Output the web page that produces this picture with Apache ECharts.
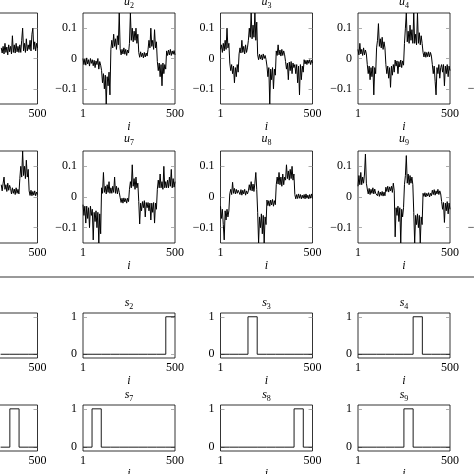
<!DOCTYPE html>
<html>
<head>
<meta charset="utf-8">
<script src="https://cdn.jsdelivr.net/npm/echarts@6.0.0/dist/echarts.min.js"></script>
<style>
html, body { margin: 0; padding: 0; background: #fff; }
#main { width: 474px; height: 474px; }
</style>
</head>
<body>
<div id="main"></div>
<script>
// u_k : 100 samples over i = 1..500 (10 per block of 50)
// hidden parts (left of the crop) are null
const u1 = Array(60).fill(null).concat([
  0.035, 0.018, 0.04, 0.015, 0.05, 0.02, 0.038, 0.012, 0.045, 0.022,
  0.04, 0.015, 0.075, 0.02, 0.045, 0.018, 0.05, 0.022, 0.04, 0.02,
  0.045, 0.02, 0.06, 0.1, 0.025, 0.05, 0.02, 0.065, 0.025, 0.045,
  0.03, 0.06, 0.025, 0.08, 0.1, 0.03, 0.055, 0.025, 0.05, 0.035
]);
const u2 = [
  0.0, -0.02, -0.002, -0.022, 0.002, -0.018, -0.004, -0.025, 0.0, -0.016,
  -0.004, -0.024, -0.006, -0.03, -0.008, -0.02, 0.0, -0.035, -0.01, -0.022,
  -0.04, -0.08, -0.05, -0.1, -0.055, -0.15, -0.06, -0.09, -0.045, -0.12,
  0.03, 0.06, 0.035, 0.08, 0.04, 0.065, 0.03, 0.075, 0.045, 0.15,
  0.032, 0.012, 0.03, 0.015, 0.035, 0.014, 0.03, 0.01, 0.028, 0.018,
  0.05, 0.15, 0.06, 0.1, 0.055, 0.09, 0.06, 0.1, 0.05, 0.08,
  0.02, 0.004, 0.022, 0.006, 0.018, 0.002, 0.02, 0.005, 0.018, 0.008,
  0.03, 0.06, 0.035, 0.1, 0.04, 0.06, 0.03, 0.095, 0.035, 0.055,
  -0.01, -0.04, -0.015, -0.06, -0.02, -0.09, -0.015, -0.05, -0.02, -0.035,
  0.025, 0.01, 0.028, 0.012, 0.03, 0.01, 0.025, 0.014, 0.026, 0.012
];
const u3 = [
  0.03, 0.045, 0.02, 0.05, 0.025, 0.06, 0.03, 0.1, 0.035, 0.05,
  -0.015, -0.04, -0.02, -0.05, -0.025, -0.08, -0.03, -0.06, -0.02, -0.045,
  0.015, 0.035, 0.018, 0.06, 0.02, 0.04, 0.015, 0.045, 0.02, 0.035,
  0.06, 0.1, 0.07, 0.15, 0.065, 0.11, 0.07, 0.15, 0.06, 0.12,
  0.012, -0.004, 0.014, -0.002, 0.012, -0.005, 0.015, 0.0, 0.01, -0.003,
  -0.025, -0.06, -0.03, -0.15, -0.035, -0.07, -0.03, -0.1, -0.035, -0.055,
  0.025, 0.01, 0.045, 0.012, 0.028, 0.008, 0.03, 0.01, 0.025, 0.012,
  -0.01, -0.035, -0.015, -0.07, -0.012, -0.04, -0.01, -0.05, -0.015, -0.03,
  -0.02, -0.05, -0.02, -0.08, -0.025, -0.12, -0.02, -0.07, -0.025, -0.045,
  -0.004, -0.018, -0.006, -0.02, -0.005, -0.016, -0.004, -0.02, -0.006, -0.015
];
const u4 = [
  0.03, 0.012, 0.05, 0.015, 0.03, 0.01, 0.035, 0.012, 0.028, 0.015,
  -0.02, -0.05, -0.025, -0.07, -0.03, -0.06, -0.025, -0.12, -0.03, -0.05,
  0.035, 0.06, 0.115, 0.04, 0.065, 0.035, 0.07, 0.03, 0.055, 0.035,
  -0.02, -0.05, -0.025, -0.065, -0.03, -0.095, -0.025, -0.055, -0.02, -0.045,
  -0.005, -0.025, -0.008, -0.05, -0.01, -0.028, -0.005, -0.03, -0.008, -0.022,
  0.05, 0.1, 0.15, 0.055, 0.09, 0.05, 0.11, 0.06, 0.095, 0.05,
  0.15, 0.05, 0.08, 0.045, 0.15, 0.05, 0.085, 0.045, 0.075, 0.05,
  0.02, 0.005, 0.022, 0.004, 0.02, 0.006, 0.022, 0.005, 0.02, 0.008,
  -0.02, -0.05, -0.025, -0.075, -0.12, -0.03, -0.05, -0.02, -0.065, -0.03,
  -0.02, -0.045, -0.02, -0.09, -0.025, -0.05, -0.02, -0.06, -0.025, -0.04
];
const u6 = Array(60).fill(null).concat([
  0.04, 0.02, 0.045, 0.065, 0.025, 0.04, 0.018, 0.045, 0.022, 0.038,
  0.028, 0.01, 0.03, 0.012, 0.026, 0.008, 0.03, 0.012, 0.025, 0.01,
  0.06, 0.1, 0.065, 0.15, 0.07, 0.1, 0.06, 0.12, 0.065, 0.09,
  0.02, 0.005, 0.022, 0.004, 0.018, 0.006, 0.02, 0.004, 0.016, 0.008
]);
const u7 = [
  -0.025, -0.06, -0.03, -0.085, -0.03, -0.07, -0.035, -0.1, -0.03, -0.06,
  -0.04, -0.14, -0.05, -0.08, -0.045, -0.1, -0.05, -0.15, -0.055, -0.12,
  0.03, 0.012, 0.08, 0.015, 0.035, 0.01, 0.04, 0.015, 0.05, 0.012,
  0.03, 0.012, 0.035, 0.015, 0.065, 0.012, 0.035, 0.01, 0.03, 0.015,
  -0.002, -0.018, -0.004, -0.02, -0.003, -0.016, -0.005, -0.02, -0.004, -0.015,
  0.025, 0.05, 0.03, 0.105, 0.035, 0.06, 0.025, 0.065, 0.03, 0.045,
  -0.015, -0.088, -0.02, -0.045, -0.015, -0.035, -0.012, -0.065, -0.018, -0.035,
  -0.018, -0.045, -0.02, -0.075, -0.02, -0.05, -0.018, -0.085, -0.02, -0.04,
  0.025, 0.055, 0.03, 0.075, 0.03, 0.05, 0.025, 0.1, 0.03, 0.05,
  0.03, 0.055, 0.03, 0.065, 0.035, 0.09, 0.03, 0.06, 0.032, 0.05
];
const u8 = [
  -0.03, -0.07, -0.04, -0.09, -0.14, -0.045, -0.075, -0.04, -0.065, -0.045,
  0.01, 0.025, 0.008, 0.048, 0.012, 0.028, 0.01, 0.025, 0.012, 0.022,
  0.022, 0.008, 0.024, 0.006, 0.022, 0.01, 0.025, 0.006, 0.02, 0.01,
  0.02, 0.04, 0.022, 0.05, 0.02, 0.042, 0.018, 0.045, 0.08, 0.025,
  -0.05, -0.15, -0.065, -0.1, -0.055, -0.12, -0.06, -0.15, -0.065, -0.09,
  -0.01, -0.028, -0.012, -0.03, -0.01, -0.026, -0.008, -0.03, -0.012, -0.025,
  0.04, 0.065, 0.042, 0.08, 0.04, 0.065, 0.035, 0.075, 0.04, 0.065,
  0.055, 0.105, 0.06, 0.085, 0.055, 0.09, 0.06, 0.1, 0.055, 0.075,
  0.008, -0.006, 0.008, -0.005, 0.01, -0.004, 0.008, -0.006, 0.006, -0.004,
  0.008, -0.006, 0.01, -0.004, 0.006, -0.006, 0.008, -0.004, 0.01, -0.005
];
const u9 = [
  0.035, 0.07, 0.04, 0.08, 0.04, 0.065, 0.045, 0.075, 0.14, 0.045,
  0.026, 0.01, 0.028, 0.008, 0.025, 0.012, 0.03, 0.01, 0.026, 0.012,
  0.018, 0.004, 0.02, 0.002, 0.016, 0.005, 0.018, 0.003, 0.016, 0.004,
  0.032, 0.018, 0.035, 0.016, 0.033, 0.02, 0.035, 0.015, 0.045, 0.02,
  -0.13, -0.035, -0.06, -0.03, -0.08, -0.035, -0.15, -0.04, -0.065, -0.035,
  0.04, 0.07, 0.135, 0.045, 0.075, 0.04, 0.07, 0.045, 0.065, 0.04,
  -0.05, -0.15, -0.06, -0.09, -0.055, -0.1, -0.06, -0.15, -0.065, -0.09,
  0.012, 0.002, 0.014, 0.0, 0.012, 0.003, 0.014, 0.0, 0.012, 0.004,
  0.022, 0.008, 0.024, 0.006, 0.02, 0.01, 0.025, 0.008, 0.02, 0.01,
  -0.015, -0.04, -0.018, -0.083, -0.02, -0.045, -0.015, -0.055, -0.02, -0.04
];

// s_k : state of each block of 50 samples (null = not visible)
const s1 = [null, null, null, null, null, null, 0, 0, 0, 0];
const s2 = [0, 0, 0, 0, 0, 0, 0, 0, 0, 1];
const s3 = [0, 0, 0, 1, 0, 0, 0, 0, 0, 0];
const s4 = [0, 0, 0, 0, 0, 0, 1, 0, 0, 0];
const s6 = [null, null, null, null, null, null, 0, 1, 0, 0];
const s7 = [0, 1, 0, 0, 0, 0, 0, 0, 0, 0];
const s8 = [0, 0, 0, 0, 0, 0, 0, 0, 1, 0];
const s9 = [0, 0, 0, 0, 0, 1, 0, 0, 0, 0];

const uTicks = [-0.1, 0, 0.1];
const sTicks = [0, 1];

const FONT = 'Liberation Serif';
const colLeft = [-54.5, 83, 220.5, 358, 495.5];
const boxW = 92;
const rows = [
  { top: 13, h: 91, titleY: 2 },
  { top: 151, h: 92, titleY: 139 },
  { top: 313, h: 45, titleY: 303 },
  { top: 405, h: 46, titleY: 395 }
];

const N = u2.length;
const idx = [];
for (let k = 0; k < N; k++) idx.push(1 + k * 499 / (N - 1));

function uData(arr) {
  return idx.map((x, k) => [x, arr[k]]);
}

function sData(states) {
  const pts = [];
  states.forEach((v, j) => {
    if (v === null) return;
    pts.push([j === 0 ? 1 : j * 50, v], [(j + 1) * 50, v]);
  });
  return pts;
}

function fmtY(v) {
  return v < 0 ? '\u2212' + String(-v) : String(v);
}

const grids = [], xAxes = [], yAxes = [], series = [], graphics = [];

function addPanel(row, col, letter, num, yMin, yMax, yTicks, data, lw) {
  const g = grids.length;
  const r = rows[row];
  grids.push({
    left: colLeft[col], top: r.top, width: boxW, height: r.h,
    containLabel: false, outerBoundsMode: 'none',
    show: true, borderColor: '#000', borderWidth: 0.8, backgroundColor: 'transparent'
  });
  xAxes.push({
    type: 'value', gridIndex: g, min: 1, max: 500,
    splitLine: { show: false }, axisLine: { show: false }, axisTick: { show: false },
    axisLabel: { customValues: [1, 500], margin: 4, fontFamily: FONT, fontSize: 12, color: '#000' },
    name: 'i', nameLocation: 'middle', nameGap: 14,
    nameTextStyle: { fontFamily: FONT, fontStyle: 'italic', fontSize: 12, color: '#000' }
  });
  const tick = { inside: true, length: 4, customValues: yTicks, lineStyle: { color: '#999', width: 0.8 } };
  yAxes.push({
    type: 'value', gridIndex: g, min: yMin, max: yMax, position: 'left',
    splitLine: { show: false }, axisLine: { show: false }, axisTick: tick,
    axisLabel: { customValues: yTicks, formatter: fmtY, margin: 6, fontFamily: FONT, fontSize: 12, color: '#000' }
  });
  yAxes.push({
    type: 'value', gridIndex: g, min: yMin, max: yMax, position: 'right',
    splitLine: { show: false }, axisLine: { show: false }, axisTick: tick,
    axisLabel: { show: false }
  });
  if (data) {
    series.push({
      type: 'line', xAxisIndex: g, yAxisIndex: 2 * g, data: data,
      symbol: 'none', showSymbol: false, silent: true,
      lineStyle: { color: '#000', width: lw }
    });
  }
  if (col > 0 && col < 4) {
    graphics.push({
      type: 'text', x: colLeft[col] + boxW / 2, y: r.titleY,
      style: {
        text: '{v|' + letter + '}{n|' + num + '}',
        align: 'center', verticalAlign: 'middle',
        rich: {
          v: { fontFamily: FONT, fontStyle: 'italic', fontSize: 12, fill: '#000' },
          n: { fontFamily: FONT, fontSize: 8, fill: '#000', padding: [7, 0, 0, 0] }
        }
      }
    });
  }
}

// top block: u
addPanel(0, 0, 'u', 1, -0.15, 0.15, uTicks, uData(u1), 1);
addPanel(0, 1, 'u', 2, -0.15, 0.15, uTicks, uData(u2), 1);
addPanel(0, 2, 'u', 3, -0.15, 0.15, uTicks, uData(u3), 1);
addPanel(0, 3, 'u', 4, -0.15, 0.15, uTicks, uData(u4), 1);
addPanel(0, 4, 'u', 5, -0.15, 0.15, uTicks, null, 1);
addPanel(1, 0, 'u', 6, -0.15, 0.15, uTicks, uData(u6), 1);
addPanel(1, 1, 'u', 7, -0.15, 0.15, uTicks, uData(u7), 1);
addPanel(1, 2, 'u', 8, -0.15, 0.15, uTicks, uData(u8), 1);
addPanel(1, 3, 'u', 9, -0.15, 0.15, uTicks, uData(u9), 1);
addPanel(1, 4, 'u', 10, -0.15, 0.15, uTicks, null, 1);
// bottom block: s
addPanel(2, 0, 's', 1, -0.1, 1.1, sTicks, sData(s1), 0.9);
addPanel(2, 1, 's', 2, -0.1, 1.1, sTicks, sData(s2), 0.9);
addPanel(2, 2, 's', 3, -0.1, 1.1, sTicks, sData(s3), 0.9);
addPanel(2, 3, 's', 4, -0.1, 1.1, sTicks, sData(s4), 0.9);
addPanel(3, 0, 's', 6, -0.1, 1.1, sTicks, sData(s6), 0.9);
addPanel(3, 1, 's', 7, -0.1, 1.1, sTicks, sData(s7), 0.9);
addPanel(3, 2, 's', 8, -0.1, 1.1, sTicks, sData(s8), 0.9);
addPanel(3, 3, 's', 9, -0.1, 1.1, sTicks, sData(s9), 0.9);

// rule between the two blocks
graphics.push({
  type: 'line', shape: { x1: 0, y1: 277, x2: 474, y2: 277 },
  style: { stroke: '#000', lineWidth: 0.8 }
});

const myChart = echarts.init(document.getElementById('main'));
myChart.setOption({
  animation: false,
  backgroundColor: '#fff',
  grid: grids,
  xAxis: xAxes,
  yAxis: yAxes,
  series: series,
  graphic: graphics
});
</script>
</body>
</html>
